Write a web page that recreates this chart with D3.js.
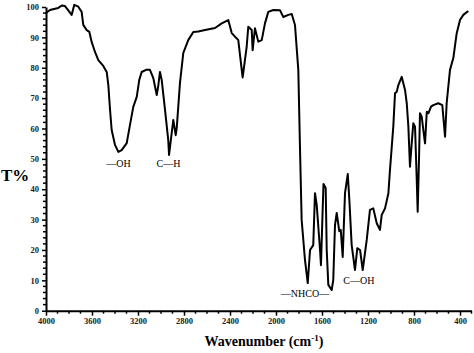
<!DOCTYPE html>
<html>
<head>
<meta charset="utf-8">
<script src="https://cdn.jsdelivr.net/npm/d3@7"></script>
<style>
  html, body { margin: 0; padding: 0; background: #fff; }
  svg { display: block; }
</style>
</head>
<body>
<svg id="chart" width="474" height="353"></svg>
<script>
// IR spectrum (wavenumber cm-1, transmittance %)
const wavenumber = [4000,3965,3922,3893,3863,3835,3806,3777,3754,3719,3690,3676,3646,3623,3603,3574,3545,3502,3472,3458,
  3443,3429,3400,3371,3342,3298,3270,3241,3211,3189,3168,3130,3096,3067,3037,3023,3009,2994,2965,2937,
  2930,2893,2872,2863,2835,2806,2763,2719,2676,2617,2530,2472,2415,2385,2328,2298,2290,2255,2241,2211,
  2203,2183,2154,2124,2096,2067,2023,1965,1936,1893,1863,1835,1806,1791,1777,1748,1724,1704,1676,1661,
  1646,1617,1609,1597,1587,1568,1559,1545,1516,1502,1487,1472,1450,1437,1420,1400,1376,1362,1342,1313,
  1293,1269,1246,1211,1183,1154,1124,1096,1081,1052,1023,1009,980,965,950,936,907,878,863,849,
  835,820,806,791,777,768,756,748,733,719,704,689,675,652,632,589,554,530,516,487,
  458,429,400,371,328]
const transmittance = [98.0,99.0,99.4,99.7,100.5,100.3,98.9,97.4,100.7,100.1,98.4,94.1,92.4,91.8,88.5,85.2,82.5,80.6,78.6,74.3,
  66.1,59.5,54.6,52.3,52.9,55.2,61.1,67.1,70.4,76.0,78.6,79.3,79.3,76.6,71.0,74.3,78.6,76.0,66.1,56.2,
  51.3,62.8,57.8,60.2,75.0,84.9,89.1,91.8,91.9,92.4,93.1,94.6,95.7,91.4,89.1,79.3,76.8,86.9,93.5,92.4,
  85.8,93.0,88.6,89.1,94.6,98.4,99.0,98.9,96.7,97.4,97.7,94.1,79.3,52.9,29.9,16.7,9.1,20.0,21.6,38.7,
  34.8,20.0,15.0,29.9,41.7,40.4,20.0,8.5,6.8,10.1,28.2,32.2,26.2,26.6,17.7,38.7,45.0,36.4,21.6,13.4,
  20.6,20.0,13.4,23.3,33.2,33.7,28.8,26.6,31.5,33.7,38.6,46.3,60.6,71.6,72.1,74.3,77.0,72.7,68.3,60.6,
  47.4,55.1,61.7,60.6,44.1,32.6,50.7,65.0,63.9,59.5,55.1,65.5,65.0,67.2,67.7,68.3,67.7,57.3,68.3,79.3,
  83.2,91.3,95.7,97.4,98.7]

const xTicks = [4000,3600,3200,2800,2400,2000,1600,1200,800,400]
const xTickLabels = ["4000","3600","3200","2800","2400","2000","1600","1200","800","400"]
const yTicks = [0,10,20,30,40,50,60,70,80,90,100]

// band labels and where they sit
const bandNames = ["\u2014OH", "C\u2014H", "\u2014NHCO\u2014", "C\u2014OH"]
const bandWave = [3370, 2935, 1748, 1280]
const bandT = [47.3, 47.3, 4.5, 8.8]

const svg = d3.select("#chart")
const font = "'Liberation Serif', 'Times New Roman', serif"

const xScale = d3.scaleLinear().domain([4000, 300]).range([46, 471.5])
const yScale = d3.scaleLinear().domain([0, 100]).range([310.7, 7])

// x axis
const xAxis = d3.axisBottom(xScale)
    .tickValues(xTicks)
    .tickFormat((d, i) => xTickLabels[i])
    .tickSize(5)
    .tickSizeOuter(0)
    .tickPadding(2)
const gx = svg.append("g")
    .attr("transform", "translate(0," + yScale(0) + ")")
    .call(xAxis)
gx.select(".domain").attr("stroke-width", 2)
gx.selectAll(".tick line").attr("stroke-width", 1.5)
gx.selectAll("text")
    .style("font-family", font)
    .style("font-size", "8.5px")
    .style("font-weight", "bold")
    .attr("fill", "#222")

const xMinor = d3.range(4000, 299, -100).filter(d => xTicks.indexOf(d) < 0)
svg.append("g")
    .selectAll("line")
    .data(xMinor)
    .enter()
    .append("line")
    .attr("x1", d => xScale(d))
    .attr("x2", d => xScale(d))
    .attr("y1", yScale(0))
    .attr("y2", yScale(0) + 3)
    .attr("stroke", "#000")
    .attr("stroke-width", 1.5)

// y axis
const yAxis = d3.axisLeft(yScale)
    .tickValues(yTicks)
    .tickSize(4)
    .tickSizeOuter(0)
    .tickPadding(3)
const gy = svg.append("g")
    .attr("transform", "translate(" + xScale(4000) + ",0)")
    .call(yAxis)
gy.select(".domain").attr("stroke-width", 2)
gy.selectAll(".tick line").attr("stroke-width", 1.5)
gy.selectAll("text")
    .style("font-family", font)
    .style("font-size", "8.5px")
    .style("font-weight", "bold")
    .attr("fill", "#222")

const yMinor = d3.range(0, 101, 2).filter(d => d % 10 != 0)
svg.append("g")
    .selectAll("line")
    .data(yMinor)
    .enter()
    .append("line")
    .attr("x1", xScale(4000) - 3)
    .attr("x2", xScale(4000))
    .attr("y1", d => yScale(d))
    .attr("y2", d => yScale(d))
    .attr("stroke", "#000")
    .attr("stroke-width", 1.5)

// spectrum
const data = wavenumber.map((w, i) => ({ x: w, y: transmittance[i] }))
const line = d3.line()
    .x(d => xScale(d.x))
    .y(d => yScale(d.y))

svg.append("path")
    .attr("d", line(data))
    .attr("fill", "none")
    .attr("stroke", "#000")
    .attr("stroke-width", 2)
    .attr("stroke-linejoin", "round")

// band labels
svg.append("g")
    .selectAll("text")
    .data(bandNames)
    .enter()
    .append("text")
    .attr("x", (d, i) => xScale(bandWave[i]))
    .attr("y", (d, i) => yScale(bandT[i]))
    .attr("text-anchor", "middle")
    .style("font-family", font)
    .style("font-size", "10px")
    .text(d => d)

// axis titles
svg.append("text")
    .attr("x", 1)
    .attr("y", 181)
    .style("font-family", font)
    .style("font-size", "17px")
    .style("font-weight", "bold")
    .text("T%")

const xt = svg.append("text")
    .attr("x", 264)
    .attr("y", 346)
    .attr("text-anchor", "middle")
    .style("font-family", font)
    .style("font-size", "14px")
    .style("font-weight", "bold")
xt.append("tspan").text("Wavenumber (cm")
xt.append("tspan").attr("dy", -5).style("font-size", "9px").text("-1")
xt.append("tspan").attr("dy", 5).text(")")
</script>
</body>
</html>
